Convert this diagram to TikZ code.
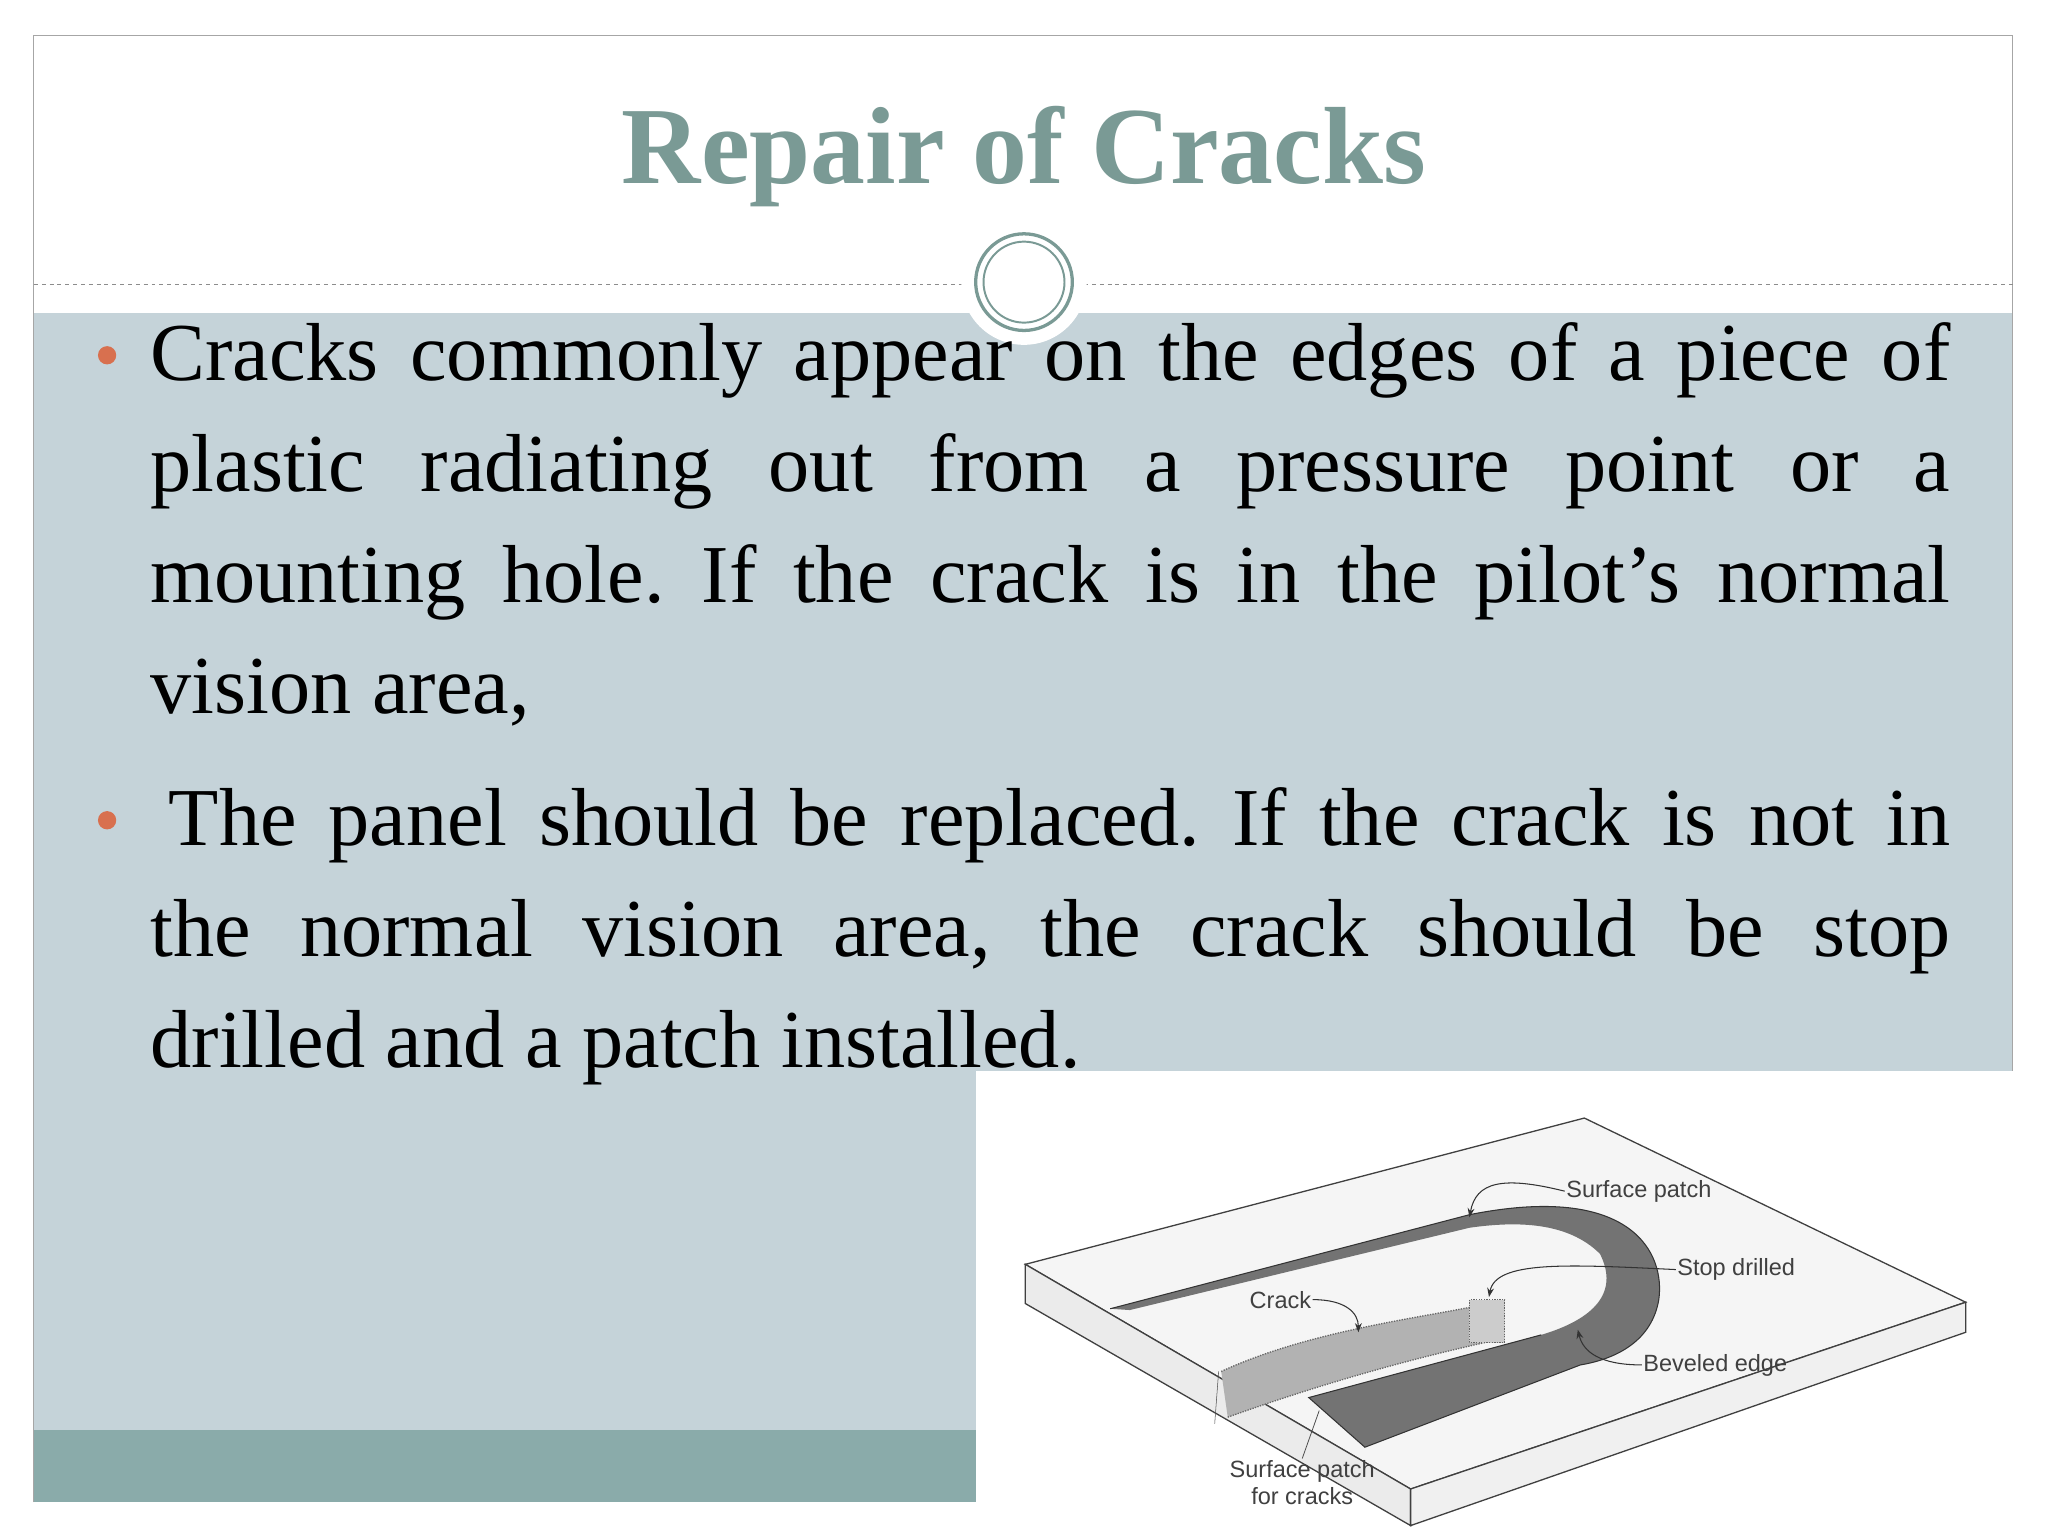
\documentclass[tikz,border=0pt]{standalone}
\usepackage{fontspec}
\setmainfont{Liberation Serif}
\newfontfamily\lab{Liberation Sans}
\usetikzlibrary{arrows.meta}
\definecolor{panel}{HTML}{C5D3D9}
\definecolor{bar}{HTML}{8AABAA}
\definecolor{ttl}{HTML}{7A9A95}
\definecolor{bul}{HTML}{D8704F}
\frenchspacing
\begin{document}
\begin{tikzpicture}[x=1pt,y=-1pt,
  lbl/.style={font=\lab\fontsize{18}{21}\selectfont,text=black!75,inner sep=1pt},
  ptr/.style={draw=black!80,line width=0.8pt,-{Stealth[length=7pt]}},
  bodytext/.style={anchor=north west,text width=1378pt,align=justify,inner sep=0pt,font=\fontsize{63}{85}\selectfont}]
\useasboundingbox (0,0) rectangle (1568,1176);
\fill[white] (0,0) rectangle (1568,1176);
\fill[panel] (26,240) rectangle (1541,1095);
\fill[bar] (26,1095) rectangle (747,1150);
\draw[black!35,line width=0.8pt] (26,1150) -- (26,27) -- (1541,27) -- (1541,820);
\draw[black!45,dashed,line width=0.6pt] (26,218) -- (1541,218);
\node[circle,fill=white,minimum size=96pt,inner sep=0] (ring) at (784,216) {};
\draw[ttl,line width=2.5pt] (784,216) circle (37);
\draw[ttl,line width=1.5pt] (784,216) circle (31);
\node[font=\bfseries\fontsize{84}{90}\selectfont,text=ttl] (title) at (784,120) {Repair of Cracks};
\fill[bul] (82,272) circle (7);
\fill[bul] (82,628) circle (7);
\node[bodytext] (b1) at (115,247) {\hyphenpenalty=10000 Cracks commonly appear on the edges of a piece of\linebreak plastic radiating out from a pressure point or a\linebreak mounting hole. If the crack is in the pilot’s normal\linebreak vision area,};
\node[bodytext] (b2) at (115,603) {\hyphenpenalty=10000 \hspace*{14pt}The panel should be replaced. If the crack is not in\linebreak the normal vision area, the crack should be stop\linebreak drilled and a patch installed.};
% image region
\fill[white] (747,820) rectangle (1541,1176);
% slab
\draw[black!75,line width=1pt,fill=black!4] (785,968) -- (1213,856) -- (1505,997) -- (1080,1140) -- cycle;
\draw[black!75,line width=1pt,fill=black!8] (785,968) -- (1080,1140) -- (1080,1168) -- (785,998) -- cycle;
\draw[black!75,line width=1pt,fill=black!6] (1080,1140) -- (1505,997) -- (1505,1020) -- (1080,1168) -- cycle;
% crack patch (light)
\fill[black!30] (935,1050) .. controls (1000,1020) and (1080,1010) .. (1130,1000) -- (1150,1025) .. controls (1080,1040) and (1010,1060) .. (940,1085) -- cycle;
\draw[black!60,densely dotted,line width=1pt] (935,1050) .. controls (1000,1020) and (1080,1010) .. (1130,1000);
\draw[black!60,densely dotted,line width=1pt] (940,1085) .. controls (1010,1060) and (1080,1040) .. (1150,1025);
\draw[black!60,densely dotted,line width=1pt,fill=black!20] (1125,995) rectangle (1152,1028);
\draw[black!70] (933,1050) -- (930,1090);
% horseshoe patch
\fill[black!55] (850,1002) -- (1125,930) .. controls (1250,905) and (1275,960) .. (1270,995)
   .. controls (1265,1025) and (1240,1040) .. (1210,1045) -- (1045,1108) -- (1002,1070) -- (1180,1022)
   .. controls (1220,1010) and (1240,990) .. (1225,960) .. controls (1200,935) and (1160,935) .. (1125,940) -- (865,1003) -- cycle;
\draw[black!80,line width=0.8pt] (850,1002) -- (1125,930) .. controls (1250,905) and (1275,960) .. (1270,995)
   .. controls (1265,1025) and (1240,1040) .. (1210,1045) -- (1045,1108) -- (1002,1070) -- (1180,1022);
% labels
\node[lbl,anchor=west] (sp) at (1198,912) {Surface patch};
\node[lbl,anchor=west] (sd) at (1283,972) {Stop drilled};
\node[lbl,anchor=east] (cr) at (1005,995) {Crack};
\node[lbl,anchor=west] (be) at (1257,1045) {Beveled edge};
\node[lbl,align=center] (spc) at (997,1135) {Surface patch\\for cracks};
\coordinate (spt) at (1125,932);
\coordinate (sdt) at (1140,993);
\coordinate (crt) at (1040,1020);
\coordinate (bet) at (1208,1018);
\coordinate (spct) at (1010,1080);
\draw[ptr] (sp.west) .. controls (1150,900) and (1130,905) .. (spt);
\draw[ptr] (sd.west) .. controls (1200,968) and (1145,965) .. (sdt);
\draw[ptr] (cr.east) .. controls (1030,995) and (1040,1005) .. (crt);
\draw[ptr] (be.west) .. controls (1225,1045) and (1212,1035) .. (bet);
\draw[black!70,line width=0.6pt] (spc.north) -- (spct);
\end{tikzpicture}
\end{document}
